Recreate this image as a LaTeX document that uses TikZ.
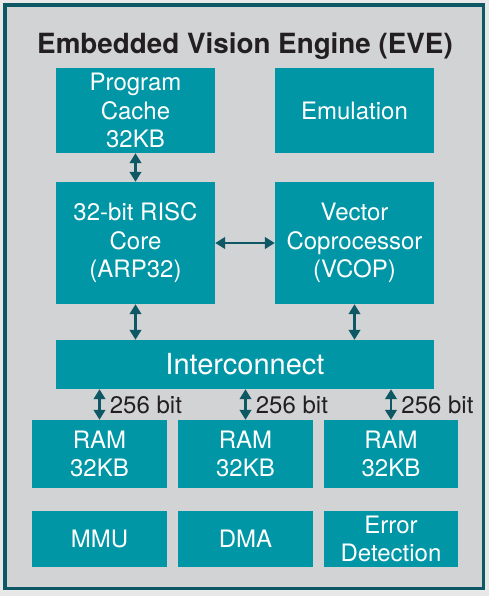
\documentclass[tikz,border=0pt]{standalone}
\usepackage{fontspec}
\setmainfont{TeX Gyre Heros}
\usepackage{tikz}
\usetikzlibrary{arrows.meta}

\definecolor{boxteal}{RGB}{0,150,166}
\definecolor{darkteal}{RGB}{14,87,101}
\definecolor{panelgrey}{RGB}{209,211,212}
\definecolor{outergrey}{RGB}{232,232,233}
\definecolor{titleblack}{RGB}{35,31,32}

\tikzset{
  block/.style={fill=boxteal, text=white, inner sep=0pt, align=center,
    font=\fontsize{24}{28.5}\selectfont},
  link/.style={darkteal, line width=2.8pt,
    {Triangle[width=11.5pt,length=10pt]}-{Triangle[width=11.5pt,length=10pt]}},
  buswidth/.style={text=titleblack, font=\fontsize{24}{28}\selectfont,
    anchor=west, inner sep=0pt, xshift=9pt}
}

\begin{document}
\begin{tikzpicture}[x=1pt,y=-1pt]
    \useasboundingbox[fill=outergrey] (0,0) rectangle (489,596);
    \draw[darkteal, line width=3.4pt, fill=panelgrey] (5,5) rectangle (483.5,588.5);

    \node[anchor=base, text=titleblack, font=\fontsize{27.8}{31}\selectfont\bfseries]
      (title) at (245,54) {Embedded Vision Engine (EVE)};

    % upper blocks
    \node[block, minimum width=159pt, minimum height=85pt] (cache) at (135.5,110.5) {Program\\Cache\\32KB};
    \node[block, minimum width=159pt, minimum height=85pt] (emu) at (354.5,110.5) {Emulation};
    \node[block, minimum width=159pt, minimum height=122pt] (core) at (135.5,243) {32-bit RISC\\Core\\(ARP32)};
    \node[block, minimum width=159pt, minimum height=122pt] (vcop) at (354.5,243) {Vector\\Coprocessor\\(VCOP)};
    \node[block, minimum width=378pt, minimum height=49pt, font=\fontsize{29}{32}\selectfont] (inter) at (245,364.5) {Interconnect};

    % memories
    \node[block, minimum width=135pt, minimum height=68pt] (ram1) at (99.5,454) {RAM\\32KB};
    \node[block, minimum width=135pt, minimum height=68pt] (ram2) at (245.5,454) {RAM\\32KB};
    \node[block, minimum width=134pt, minimum height=68pt] (ram3) at (391,454) {RAM\\32KB};

    \node[block, minimum width=135pt, minimum height=56pt] (mmu) at (99.5,539) {MMU};
    \node[block, minimum width=135pt, minimum height=56pt] (dma) at (245.5,539) {DMA};
    \node[block, minimum width=134pt, minimum height=56pt] (err) at (391,539) {Error\\Detection};

    \draw[link] (cache.south) -- (core.north);
    \draw[link] (core.east) -- (vcop.west);
    \draw[link] (core.south) -- (inter.north -| core.south);
    \draw[link] (vcop.south) -- (inter.north -| vcop.south);

    \draw[link] (inter.south -| ram1.north) -- (ram1.north) node[buswidth, midway] {256 bit};
    \draw[link] (inter.south -| ram2.north) -- (ram2.north) node[buswidth, midway] {256 bit};
    \draw[link] (inter.south -| ram3.north) -- (ram3.north) node[buswidth, midway] {256 bit};
\end{tikzpicture}
\end{document}
